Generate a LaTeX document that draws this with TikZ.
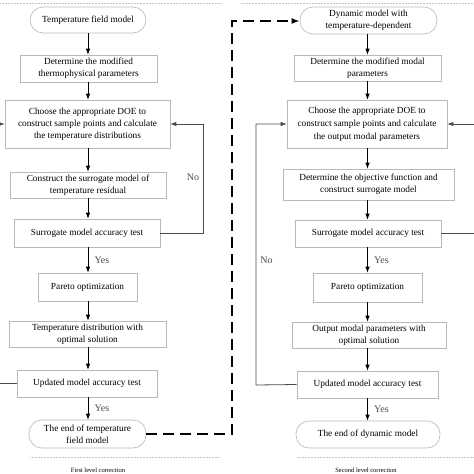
\documentclass[tikz,border=0pt]{standalone}
\usepackage{fontspec}
\setmainfont{Liberation Serif}
\usetikzlibrary{arrows.meta}
\begin{document}
\begin{tikzpicture}[x=1pt,y=-1pt,
 box/.style={draw=gray!55, line width=0.6pt, fill=white, align=center, inner sep=1pt, font=\fontsize{9.3}{12.2}\selectfont},
 term/.style={box, rounded corners=13pt},
 arr/.style={-{Latex[length=6pt,width=4.5pt]}, line width=0.8pt, black},
 backarr/.style={-{Latex[length=6pt,width=4.5pt]}, line width=0.8pt, black!70},
 flowarr/.style={-{Latex[length=8pt,width=6pt]}, line width=1.6pt, black, dash pattern=on 11pt off 6pt},
 dotl/.style={gray!45, line width=0.5pt, dash pattern=on 0.7pt off 0.8pt},
 lab/.style={font=\fontsize{10}{12}\selectfont, text=black!70},
 captxt/.style={font=\fontsize{6.5}{8}\selectfont}]
\useasboundingbox (0,0) rectangle (474,474);
\clip (0,0) rectangle (474,474);
\fill[white] (0,0) rectangle (474,474);

% frame dotted lines
\draw[dotl] (0,3) -- (222,3);
\draw[dotl] (241,3) -- (474,3);
\draw[dotl] (30,457) -- (220,457);
\draw[dotl] (297,457) -- (474,457);

% captions
\node[captxt] (c1) at (98,470) {First level correction};
\node[captxt] (c2) at (366,470) {Second level correction};

% left column
\node[term, minimum width=116pt, minimum height=26pt] (t1) at (88,20) {Temperature field model};
\node[box, minimum width=137pt, minimum height=27pt] (b1) at (88.5,68.5) {Determine the modified\\thermophysical parameters};
\node[box, minimum width=165pt, minimum height=48pt] (b2) at (87.5,124) {Choose the appropriate DOE to\\construct sample points and calculate\\the temperature distributions};
\node[box, minimum width=156pt, minimum height=26pt] (b3) at (88,185) {Construct the surrogate model of\\temperature residual};
\node[box, minimum width=146pt, minimum height=28pt] (b4) at (87,233) {Surrogate model accuracy test};
\node[box, minimum width=99pt, minimum height=28pt] (b5) at (87.5,287) {Pareto optimization};
\node[box, minimum width=157pt, minimum height=26pt] (b6) at (87.5,334) {Temperature distribution with\\optimal solution};
\node[box, minimum width=140pt, minimum height=27pt] (b7) at (87,383.5) {Updated model accuracy test};
\node[term, minimum width=117pt, minimum height=28pt] (t2) at (87.5,434) {The end of temperature\\field model};

\draw[arr] (t1.south) -- (t1.south |- b1.north);
\draw[arr] (t1.south |- b1.south) -- (t1.south |- b2.north);
\draw[arr] (t1.south |- b2.south) -- (t1.south |- b3.north);
\draw[arr] (t1.south |- b3.south) -- (t1.south |- b4.north);
\draw[arr] (t1.south |- b4.south) -- node[lab, right=3pt] (y1) {Yes} (t1.south |- b5.north);
\draw[arr] (t1.south |- b5.south) -- (t1.south |- b6.north);
\draw[arr] (t1.south |- b6.south) -- (t1.south |- b7.north);
\draw[arr] (t1.south |- b7.south) -- node[lab, right=3pt] (y2) {Yes} (t1.south |- t2.north);

\coordinate (nl) at (203,233);
\draw[backarr] (b4.east) -- (nl) |- (b2.east);
\node[lab] (no1) at (193,177) {No};
\draw[backarr] (b7.west) -- ++(-25,0) |- (b2.west);

% right column
\node[term, minimum width=137pt, minimum height=27pt] (r0) at (368.5,20.5) {Dynamic model with\\temperature-dependent};
\node[box, minimum width=147pt, minimum height=26pt] (r1) at (367.5,68) {Determine the modified modal\\parameters};
\node[box, minimum width=160pt, minimum height=48pt, font=\fontsize{9.3}{12.8}\selectfont] (r2) at (367,124) {Choose the appropriate DOE to\\construct sample points and calculate\\the output modal parameters};
\node[box, minimum width=171pt, minimum height=31pt] (r3) at (368.5,184.5) {Determine the objective function and\\construct surrogate model};
\node[box, minimum width=146pt, minimum height=27pt] (r4) at (368,233.5) {Surrogate model accuracy test};
\node[box, minimum width=109pt, minimum height=29pt] (r5) at (367.5,287.5) {Pareto optimization};
\node[box, minimum width=154pt, minimum height=26pt] (r6) at (369,335) {Output modal parameters with\\optimal solution};
\node[box, minimum width=141pt, minimum height=27pt] (r7) at (367.5,384.5) {Updated model accuracy test};
\node[term, minimum width=144pt, minimum height=27pt] (r8) at (368,434.5) {The end of dynamic model};

\draw[arr] (r1.north |- r0.south) -- (r1.north);
\draw[arr] (r1.south) -- (r1.south |- r2.north);
\draw[arr] (r1.south |- r2.south) -- (r1.south |- r3.north);
\draw[arr] (r1.south |- r3.south) -- (r1.south |- r4.north);
\draw[arr] (r1.south |- r4.south) -- node[lab, right=3pt] (y3) {Yes} (r1.south |- r5.north);
\draw[arr] (r1.south |- r5.south) -- (r1.south |- r6.north);
\draw[arr] (r1.south |- r6.south) -- (r1.south |- r7.north);
\draw[arr] (r1.south |- r7.south) -- node[lab, right=3pt] (y4) {Yes} (r1.south |- r8.north);

\coordinate (nr) at (256,385);
\draw[backarr] (r7.west) -- (nr) |- (r2.west);
\node[lab] (no2) at (266.5,260) {No};
\draw[backarr] (r4.east) -- ++(40,0) |- (r2.east);

% first -> second level
\coordinate (d1) at (232,434);
\coordinate (d2) at (232,21);
\draw[flowarr] (t2.east) -- (d1) -- (d2) -- (r0.west |- d2);
\end{tikzpicture}
\end{document}
